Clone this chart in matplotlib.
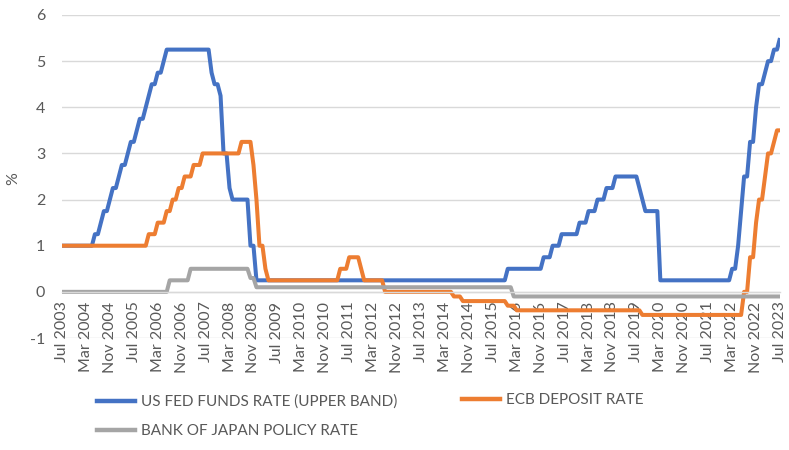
import matplotlib
matplotlib.use("Agg")
import matplotlib.pyplot as plt
from matplotlib.lines import Line2D
import numpy as np

plt.rcParams['font.family'] = ['Lato', 'DejaVu Sans']

# Monthly end-of-month policy rates, Jul 2003 .. Jul 2023 (%)
fed_rate = [
    1.00, 1.00, 1.00, 1.00, 1.00, 1.00,                                # 2003 Jul-Dec
    1.00, 1.00, 1.00, 1.00, 1.00, 1.25, 1.25, 1.50, 1.75, 1.75, 2.00, 2.25,  # 2004
    2.25, 2.50, 2.75, 2.75, 3.00, 3.25, 3.25, 3.50, 3.75, 3.75, 4.00, 4.25,  # 2005
    4.50, 4.50, 4.75, 4.75, 5.00, 5.25, 5.25, 5.25, 5.25, 5.25, 5.25, 5.25,  # 2006
    5.25, 5.25, 5.25, 5.25, 5.25, 5.25, 5.25, 5.25, 4.75, 4.50, 4.50, 4.25,  # 2007
    3.00, 3.00, 2.25, 2.00, 2.00, 2.00, 2.00, 2.00, 2.00, 1.00, 1.00, 0.25,  # 2008
    0.25, 0.25, 0.25, 0.25, 0.25, 0.25, 0.25, 0.25, 0.25, 0.25, 0.25, 0.25,  # 2009
    0.25, 0.25, 0.25, 0.25, 0.25, 0.25, 0.25, 0.25, 0.25, 0.25, 0.25, 0.25,  # 2010
    0.25, 0.25, 0.25, 0.25, 0.25, 0.25, 0.25, 0.25, 0.25, 0.25, 0.25, 0.25,  # 2011
    0.25, 0.25, 0.25, 0.25, 0.25, 0.25, 0.25, 0.25, 0.25, 0.25, 0.25, 0.25,  # 2012
    0.25, 0.25, 0.25, 0.25, 0.25, 0.25, 0.25, 0.25, 0.25, 0.25, 0.25, 0.25,  # 2013
    0.25, 0.25, 0.25, 0.25, 0.25, 0.25, 0.25, 0.25, 0.25, 0.25, 0.25, 0.25,  # 2014
    0.25, 0.25, 0.25, 0.25, 0.25, 0.25, 0.25, 0.25, 0.25, 0.25, 0.25, 0.50,  # 2015
    0.50, 0.50, 0.50, 0.50, 0.50, 0.50, 0.50, 0.50, 0.50, 0.50, 0.50, 0.75,  # 2016
    0.75, 0.75, 1.00, 1.00, 1.00, 1.25, 1.25, 1.25, 1.25, 1.25, 1.25, 1.50,  # 2017
    1.50, 1.50, 1.75, 1.75, 1.75, 2.00, 2.00, 2.00, 2.25, 2.25, 2.25, 2.50,  # 2018
    2.50, 2.50, 2.50, 2.50, 2.50, 2.50, 2.50, 2.25, 2.00, 1.75, 1.75, 1.75,  # 2019
    1.75, 1.75, 0.25, 0.25, 0.25, 0.25, 0.25, 0.25, 0.25, 0.25, 0.25, 0.25,  # 2020
    0.25, 0.25, 0.25, 0.25, 0.25, 0.25, 0.25, 0.25, 0.25, 0.25, 0.25, 0.25,  # 2021
    0.25, 0.25, 0.50, 0.50, 1.00, 1.75, 2.50, 2.50, 3.25, 3.25, 4.00, 4.50,  # 2022
    4.50, 4.75, 5.00, 5.00, 5.25, 5.25, 5.50,                          # 2023 Jan-Jul
]

ecb_rate = [
    1.00, 1.00, 1.00, 1.00, 1.00, 1.00,                                # 2003 Jul-Dec
    1.00, 1.00, 1.00, 1.00, 1.00, 1.00, 1.00, 1.00, 1.00, 1.00, 1.00, 1.00,  # 2004
    1.00, 1.00, 1.00, 1.00, 1.00, 1.00, 1.00, 1.00, 1.00, 1.00, 1.00, 1.25,  # 2005
    1.25, 1.25, 1.50, 1.50, 1.50, 1.75, 1.75, 2.00, 2.00, 2.25, 2.25, 2.50,  # 2006
    2.50, 2.50, 2.75, 2.75, 2.75, 3.00, 3.00, 3.00, 3.00, 3.00, 3.00, 3.00,  # 2007
    3.00, 3.00, 3.00, 3.00, 3.00, 3.00, 3.25, 3.25, 3.25, 3.25, 2.75, 2.00,  # 2008
    1.00, 1.00, 0.50, 0.25, 0.25, 0.25, 0.25, 0.25, 0.25, 0.25, 0.25, 0.25,  # 2009
    0.25, 0.25, 0.25, 0.25, 0.25, 0.25, 0.25, 0.25, 0.25, 0.25, 0.25, 0.25,  # 2010
    0.25, 0.25, 0.25, 0.50, 0.50, 0.50, 0.75, 0.75, 0.75, 0.75, 0.50, 0.25,  # 2011
    0.25, 0.25, 0.25, 0.25, 0.25, 0.25, 0.00, 0.00, 0.00, 0.00, 0.00, 0.00,  # 2012
    0.00, 0.00, 0.00, 0.00, 0.00, 0.00, 0.00, 0.00, 0.00, 0.00, 0.00, 0.00,  # 2013
    0.00, 0.00, 0.00, 0.00, 0.00, -0.10, -0.10, -0.10, -0.20, -0.20, -0.20, -0.20,  # 2014
    -0.20, -0.20, -0.20, -0.20, -0.20, -0.20, -0.20, -0.20, -0.20, -0.20, -0.20, -0.30,  # 2015
    -0.30, -0.30, -0.40, -0.40, -0.40, -0.40, -0.40, -0.40, -0.40, -0.40, -0.40, -0.40,  # 2016
    -0.40, -0.40, -0.40, -0.40, -0.40, -0.40, -0.40, -0.40, -0.40, -0.40, -0.40, -0.40,  # 2017
    -0.40, -0.40, -0.40, -0.40, -0.40, -0.40, -0.40, -0.40, -0.40, -0.40, -0.40, -0.40,  # 2018
    -0.40, -0.40, -0.40, -0.40, -0.40, -0.40, -0.40, -0.40, -0.50, -0.50, -0.50, -0.50,  # 2019
    -0.50, -0.50, -0.50, -0.50, -0.50, -0.50, -0.50, -0.50, -0.50, -0.50, -0.50, -0.50,  # 2020
    -0.50, -0.50, -0.50, -0.50, -0.50, -0.50, -0.50, -0.50, -0.50, -0.50, -0.50, -0.50,  # 2021
    -0.50, -0.50, -0.50, -0.50, -0.50, -0.50, 0.00, 0.00, 0.75, 0.75, 1.50, 2.00,  # 2022
    2.00, 2.50, 3.00, 3.00, 3.25, 3.50, 3.50,                          # 2023 Jan-Jul
]

boj_rate = [
    0.00, 0.00, 0.00, 0.00, 0.00, 0.00,                                # 2003 Jul-Dec
    0.00, 0.00, 0.00, 0.00, 0.00, 0.00, 0.00, 0.00, 0.00, 0.00, 0.00, 0.00,  # 2004
    0.00, 0.00, 0.00, 0.00, 0.00, 0.00, 0.00, 0.00, 0.00, 0.00, 0.00, 0.00,  # 2005
    0.00, 0.00, 0.00, 0.00, 0.00, 0.00, 0.25, 0.25, 0.25, 0.25, 0.25, 0.25,  # 2006
    0.25, 0.50, 0.50, 0.50, 0.50, 0.50, 0.50, 0.50, 0.50, 0.50, 0.50, 0.50,  # 2007
    0.50, 0.50, 0.50, 0.50, 0.50, 0.50, 0.50, 0.50, 0.50, 0.30, 0.30, 0.10,  # 2008
    0.10, 0.10, 0.10, 0.10, 0.10, 0.10, 0.10, 0.10, 0.10, 0.10, 0.10, 0.10,  # 2009
    0.10, 0.10, 0.10, 0.10, 0.10, 0.10, 0.10, 0.10, 0.10, 0.10, 0.10, 0.10,  # 2010
    0.10, 0.10, 0.10, 0.10, 0.10, 0.10, 0.10, 0.10, 0.10, 0.10, 0.10, 0.10,  # 2011
    0.10, 0.10, 0.10, 0.10, 0.10, 0.10, 0.10, 0.10, 0.10, 0.10, 0.10, 0.10,  # 2012
    0.10, 0.10, 0.10, 0.10, 0.10, 0.10, 0.10, 0.10, 0.10, 0.10, 0.10, 0.10,  # 2013
    0.10, 0.10, 0.10, 0.10, 0.10, 0.10, 0.10, 0.10, 0.10, 0.10, 0.10, 0.10,  # 2014
    0.10, 0.10, 0.10, 0.10, 0.10, 0.10, 0.10, 0.10, 0.10, 0.10, 0.10, 0.10,  # 2015
    0.10, -0.10, -0.10, -0.10, -0.10, -0.10, -0.10, -0.10, -0.10, -0.10, -0.10, -0.10,  # 2016
    -0.10, -0.10, -0.10, -0.10, -0.10, -0.10, -0.10, -0.10, -0.10, -0.10, -0.10, -0.10,  # 2017
    -0.10, -0.10, -0.10, -0.10, -0.10, -0.10, -0.10, -0.10, -0.10, -0.10, -0.10, -0.10,  # 2018
    -0.10, -0.10, -0.10, -0.10, -0.10, -0.10, -0.10, -0.10, -0.10, -0.10, -0.10, -0.10,  # 2019
    -0.10, -0.10, -0.10, -0.10, -0.10, -0.10, -0.10, -0.10, -0.10, -0.10, -0.10, -0.10,  # 2020
    -0.10, -0.10, -0.10, -0.10, -0.10, -0.10, -0.10, -0.10, -0.10, -0.10, -0.10, -0.10,  # 2021
    -0.10, -0.10, -0.10, -0.10, -0.10, -0.10, -0.10, -0.10, -0.10, -0.10, -0.10, -0.10,  # 2022
    -0.10, -0.10, -0.10, -0.10, -0.10, -0.10, -0.10,                   # 2023 Jan-Jul
]

tick_labels = [
    "Jul 2003", "Mar 2004", "Nov 2004", "Jul 2005", "Mar 2006", "Nov 2006",
    "Jul 2007", "Mar 2008", "Nov 2008", "Jul 2009", "Mar 2010", "Nov 2010",
    "Jul 2011", "Mar 2012", "Nov 2012", "Jul 2013", "Mar 2014", "Nov 2014",
    "Jul 2015", "Mar 2016", "Nov 2016", "Jul 2017", "Mar 2018", "Nov 2018",
    "Jul 2019", "Mar 2020", "Nov 2020", "Jul 2021", "Mar 2022", "Nov 2022",
    "Jul 2023",
]

series_names = ["US FED FUNDS RATE (UPPER BAND)", "ECB DEPOSIT RATE",
                "BANK OF JAPAN POLICY RATE"]
colors = ["#4472C4", "#ED7D31", "#A5A5A5"]
text_color = "#595959"
grid_color = "#D9D9D9"

W, H = 789, 450
fig = plt.figure(figsize=(W / 100, H / 100), dpi=100)
left, right, top, bottom = 62, 780, 15, 338
ax = fig.add_axes([left / W, 1 - bottom / H, (right - left) / W, (bottom - top) / H])

# axis line crosses at 0 (set before ticks: set_position resets tick objects)
for s in ['top', 'right', 'left']:
    ax.spines[s].set_visible(False)
ax.spines['bottom'].set_position(('data', 0))
ax.spines['bottom'].set_color(grid_color)
ax.spines['bottom'].set_linewidth(1)

x = np.arange(len(fed_rate))
for vals, c, name in zip([fed_rate, ecb_rate, boj_rate], colors, series_names):
    ax.plot(x, vals, color=c, lw=2.9, solid_joinstyle='round',
            solid_capstyle='butt', label=name)

ax.set_xlim(0, len(fed_rate) - 1)
ax.set_ylim(-1, 6)
ax.set_yticks(range(-1, 7))
ax.set_yticklabels([str(v) for v in range(-1, 7)])
ax.yaxis.grid(True, color=grid_color, lw=1)
ax.set_axisbelow(True)

ax.set_xticks(np.arange(0, len(fed_rate), 8))
ax.set_xticklabels(tick_labels)

ax.tick_params(axis='x', length=0, pad=7, labelsize=11.5, labelcolor=text_color,
               labelrotation=90)
ax.tick_params(axis='y', length=0, pad=12, labelsize=11.5, labelcolor=text_color)
for t in ax.get_xticklabels():
    t.set_ha('center')
    t.set_va('top')

ax.set_ylabel("%", fontsize=11.5, color=text_color)
ax.yaxis.set_label_coords(-0.058, 0.495)

leg_kw = dict(frameon=False, fontsize=11, handlelength=2.5, handletextpad=0.4,
              borderpad=0, borderaxespad=0, labelspacing=1.0,
              bbox_transform=fig.transFigure, labelcolor=text_color)
fig.legend([Line2D([], [], color=colors[0], lw=3.2),
            Line2D([], [], color=colors[2], lw=3.2)],
           [series_names[0], series_names[2]],
           loc='center left', bbox_to_anchor=(97 / W, 1 - 416.5 / H), **leg_kw)
fig.legend([Line2D([], [], color=colors[1], lw=3.2)],
           [series_names[1]],
           loc='center left', bbox_to_anchor=(462 / W, 1 - 400 / H), **leg_kw)

fig.savefig("out.png", dpi=100, facecolor='white')
